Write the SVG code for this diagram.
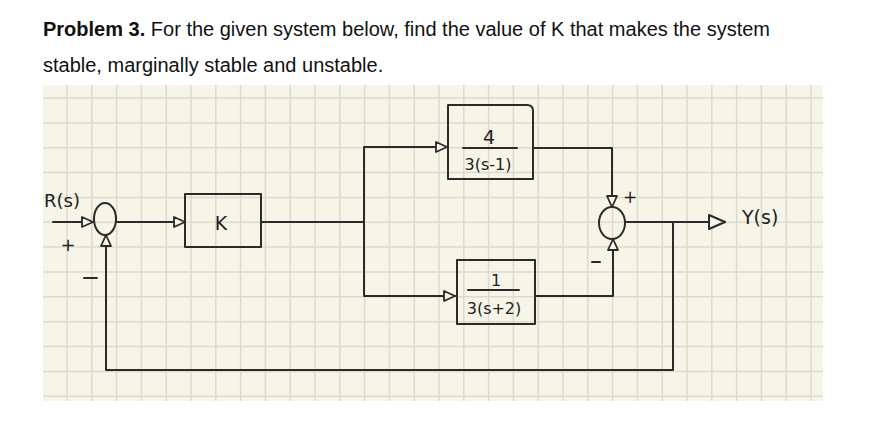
<svg xmlns="http://www.w3.org/2000/svg" width="871" height="448" viewBox="0 0 871 448">
<style>
.hdr{font-family:"Liberation Sans",Arial,sans-serif;font-size:20px;fill:#111}
.hw{font-family:"DejaVu Sans","Liberation Sans",sans-serif;fill:#222}
.ln{fill:none;stroke:#2b2b2b;stroke-width:2;stroke-linejoin:round;stroke-linecap:round}
.blk{fill:none;stroke:#2b2b2b;stroke-width:2;stroke-linejoin:round}
.grid{fill:none;stroke:#dcdccb;stroke-width:1.5}
</style>
<defs>
<marker id="tri" viewBox="-1 -1 14 12" refX="11" refY="5" markerWidth="14" markerHeight="12" markerUnits="userSpaceOnUse" orient="auto">
<path d="M0,0 L11,5 L0,10 Z" fill="#f6f5e8" stroke="#2b2b2b" stroke-width="1.8" stroke-linejoin="round"/>
</marker>
<marker id="triL" viewBox="-1 -1 18 16" refX="16" refY="7" markerWidth="18" markerHeight="16" markerUnits="userSpaceOnUse" orient="auto">
<path d="M0,0 L16,7 L0,14 Z" fill="#f6f5e8" stroke="#2b2b2b" stroke-width="2" stroke-linejoin="round"/>
</marker>
</defs>
<rect width="871" height="448" fill="#ffffff"/>
<g id="header">
<text class="hdr" x="43" y="36"><tspan font-weight="bold">Problem 3.</tspan> For the given system below, find the value of K that makes the system</text>
<text class="hdr" x="43" y="72">stable, marginally stable and unstable.</text>
</g>
<g id="paper">
<rect x="43" y="85" width="780" height="316" fill="#f6f5e8"/>
<path class="grid" d="M67 85V401M91.8 85V401M116.6 85V401M141.4 85V401M166.2 85V401M191 85V401M215.8 85V401M240.6 85V401M265.4 85V401M290.2 85V401M315 85V401M339.8 85V401M364.6 85V401M389.4 85V401M414.2 85V401M439 85V401M463.8 85V401M488.6 85V401M513.4 85V401M538.2 85V401M563 85V401M587.8 85V401M612.6 85V401M637.4 85V401M662.2 85V401M687 85V401M711.8 85V401M736.6 85V401M761.4 85V401M786.2 85V401M811 85V401"/>
<path class="grid" d="M43 98H823M43 122.9H823M43 147.7H823M43 172.6H823M43 197.4H823M43 222.3H823M43 247.1H823M43 272H823M43 296.8H823M43 321.7H823M43 346.5H823M43 371.4H823M43 396.2H823"/>
</g>
<g id="connectors">
<path class="ln" d="M53 222H93" marker-end="url(#tri)"/>
<path class="ln" d="M116 222H185" marker-end="url(#tri)"/>
<path class="ln" d="M261 222H364"/>
<path class="ln" d="M364 222V147H447" marker-end="url(#tri)"/>
<path class="ln" d="M364 222V296H455" marker-end="url(#tri)"/>
<path class="ln" d="M533 148H612V207" marker-end="url(#tri)"/>
<path class="ln" d="M535 296H613V239" marker-end="url(#tri)"/>
<path class="ln" d="M626 222H725" marker-end="url(#triL)"/>
<path class="ln" d="M673 222V370H106V235" marker-end="url(#tri)"/>
</g>
<g id="sum1">
<ellipse class="blk" cx="105" cy="219" rx="11" ry="16" fill="#f6f5e8"/>
<text class="hw" x="68" y="251" font-size="18" text-anchor="middle">+</text>
<path class="ln" d="M84 278H97"/>
</g>
<g id="rs">
<text class="hw" x="44" y="207" font-size="18">R(s)</text>
</g>
<g id="blockK">
<rect class="blk" x="185" y="194" width="76" height="53"/>
<text class="hw" x="221" y="230" font-size="19" text-anchor="middle">K</text>
</g>
<g id="block1">
<path class="blk" d="M448 105H527Q533 105 533 111V179H448Z"/>
<text class="hw" x="489" y="144" font-size="19" text-anchor="middle">4</text>
<path class="ln" d="M463 148H517"/>
<text class="hw" x="488" y="170" font-size="16" text-anchor="middle">3(s-1)</text>
</g>
<g id="block2">
<rect class="blk" x="457" y="260" width="78" height="64"/>
<text class="hw" x="496" y="286" font-size="16" text-anchor="middle">1</text>
<path class="ln" d="M468 290H519"/>
<text class="hw" x="494" y="314" font-size="16" text-anchor="middle">3(s+2)</text>
</g>
<g id="sum2">
<ellipse class="blk" cx="612" cy="223" rx="13" ry="16" fill="#f6f5e8"/>
<text class="hw" x="630" y="203" font-size="17" text-anchor="middle">+</text>
<path class="ln" d="M592 262H600"/>
</g>
<g id="ys">
<text class="hw" x="742" y="224" font-size="19">Y(s)</text>
</g>
</svg>
